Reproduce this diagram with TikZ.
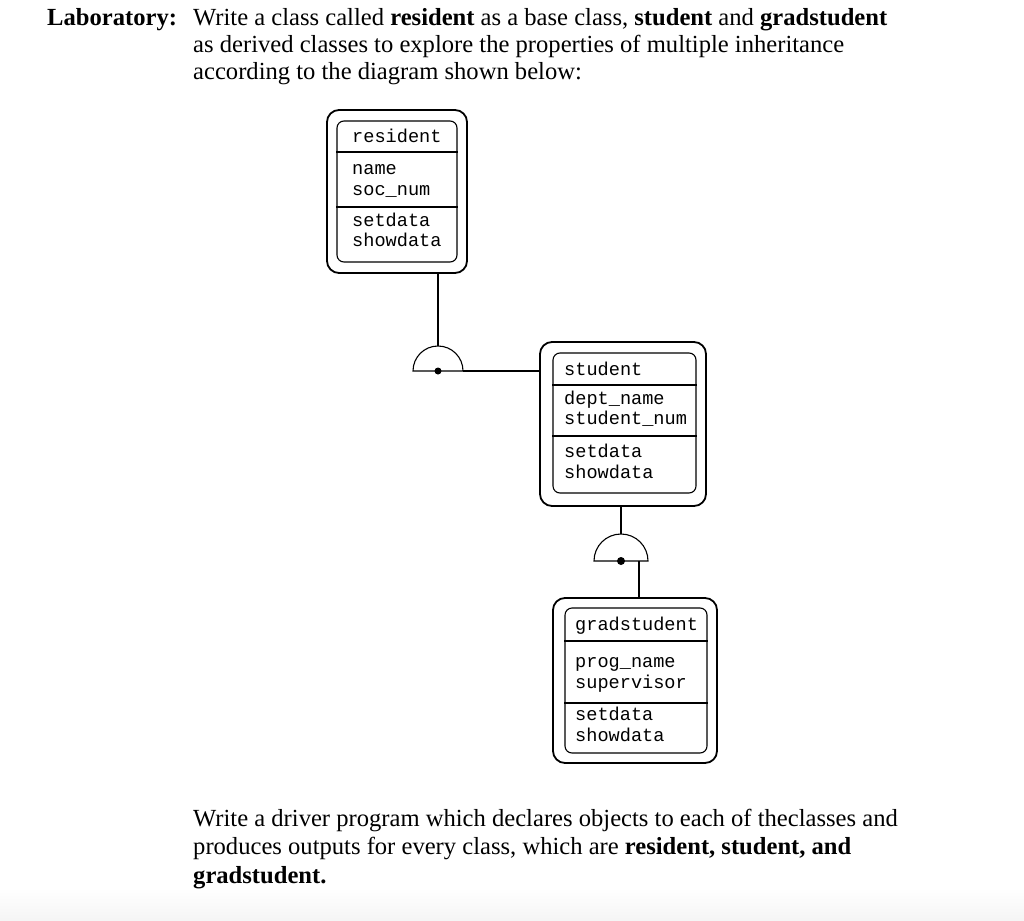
\documentclass[tikz,border=0pt]{standalone}
\usepackage{fontspec}
\setmainfont{Liberation Serif}
\setmonofont{Liberation Mono}
\usetikzlibrary{positioning}

\begin{document}
\begin{tikzpicture}[
x=1pt, y=-1pt,
outerbox/.style={draw,
rectangle,
rounded corners=12pt,
line width=1.8pt,
inner sep=0pt},
innerbox/.style={draw,
rectangle,
rounded corners=7pt,
line width=1.1pt,
inner sep=0pt},
divider/.style={line width=1.1pt},
member/.style={anchor=base west, inner sep=0pt, font=\fontsize{18.6}{20}\ttfamily},
para/.style={anchor=base west, inner sep=0pt, font=\fontsize{24.6}{27.5}\selectfont},
link/.style={line width=1.1pt}
]
\useasboundingbox (0,0) rectangle (1024,920);
\shade[top color=white, bottom color=gray!8] (0,888) rectangle (1024,920);

% task text
\node[para] (lab) at (47,26) {\textbf{Laboratory:}};
\node[para] (task1) at (193,26) {Write a class called \textbf{resident} as a base class, \textbf{student} and \textbf{gradstudent}};
\node[para] (task2) at (193,53) {as derived classes to explore the properties of multiple inheritance};
\node[para] (task3) at (193,80) {according to the diagram shown below:};

% resident
\node[outerbox, minimum width=140pt, minimum height=163pt] (resident) at (397,191.5) {};
\node[innerbox, minimum width=120pt, minimum height=141pt] (resident-in) at (397,191.5) {};
\draw[divider] (resident-in.west |- 0,152) -- (resident-in.east |- 0,152);
\draw[divider] (resident-in.west |- 0,207) -- (resident-in.east |- 0,207);
\node[member] (res-name) at (352,143) {resident};
\node[member] (res-attr1) at (352,175) {name};
\node[member] (res-attr2) at (352,195) {soc\_num};
\node[member] (res-op1) at (352,226) {setdata};
\node[member] (res-op2) at (352,246) {showdata};

% student
\node[outerbox, minimum width=166pt, minimum height=164pt] (student) at (623,424) {};
\node[innerbox, minimum width=143pt, minimum height=140pt] (student-in) at (624.5,423) {};
\draw[divider] (student-in.west |- 0,385) -- (student-in.east |- 0,385);
\draw[divider] (student-in.west |- 0,436) -- (student-in.east |- 0,436);
\node[member] (stu-name) at (564,375) {student};
\node[member] (stu-attr1) at (564,404) {dept\_name};
\node[member] (stu-attr2) at (564,424) {student\_num};
\node[member] (stu-op1) at (564,457) {setdata};
\node[member] (stu-op2) at (564,478) {showdata};

% gradstudent
\node[outerbox, minimum width=164pt, minimum height=165pt] (grad) at (635,680.5) {};
\node[innerbox, minimum width=142pt, minimum height=145pt] (grad-in) at (636,680.5) {};
\draw[divider] (grad-in.west |- 0,641) -- (grad-in.east |- 0,641);
\draw[divider] (grad-in.west |- 0,703) -- (grad-in.east |- 0,703);
\node[member] (grad-name) at (575,630) {gradstudent};
\node[member] (grad-attr1) at (575,667) {prog\_name};
\node[member] (grad-attr2) at (575,688) {supervisor};
\node[member] (grad-op1) at (575,720) {setdata};
\node[member] (grad-op2) at (575,741) {showdata};

% inheritance joints
\coordinate (join1) at (438,371);
\draw[link] (resident.south -| join1) -- ([yshift=25pt]join1);
\draw[link] ([xshift=-25pt]join1) arc[start angle=180, end angle=0, radius=25pt] -- cycle;
\fill (join1) circle (3.5);
\draw[link] ([xshift=25pt]join1) -- (join1 -| student.west);

\coordinate (join2) at (621,561);
\coordinate (join2b) at (639,561);
\draw[link] (student.south -| join2) -- ([yshift=27pt]join2);
\draw[link] ([xshift=-27pt]join2) arc[start angle=180, end angle=0, radius=27pt] -- cycle;
\fill (join2) circle (4);
\draw[link] (join2b) -- (join2b |- grad.north);

% driver text
\node[para] (drv1) at (193,826) {Write a driver program which declares objects to each of theclasses and};
\node[para] (drv2) at (193,854) {produces outputs for every class, which are \textbf{resident, student, and}};
\node[para] (drv3) at (193,883) {\textbf{gradstudent.}};
\end{tikzpicture}
\end{document}
